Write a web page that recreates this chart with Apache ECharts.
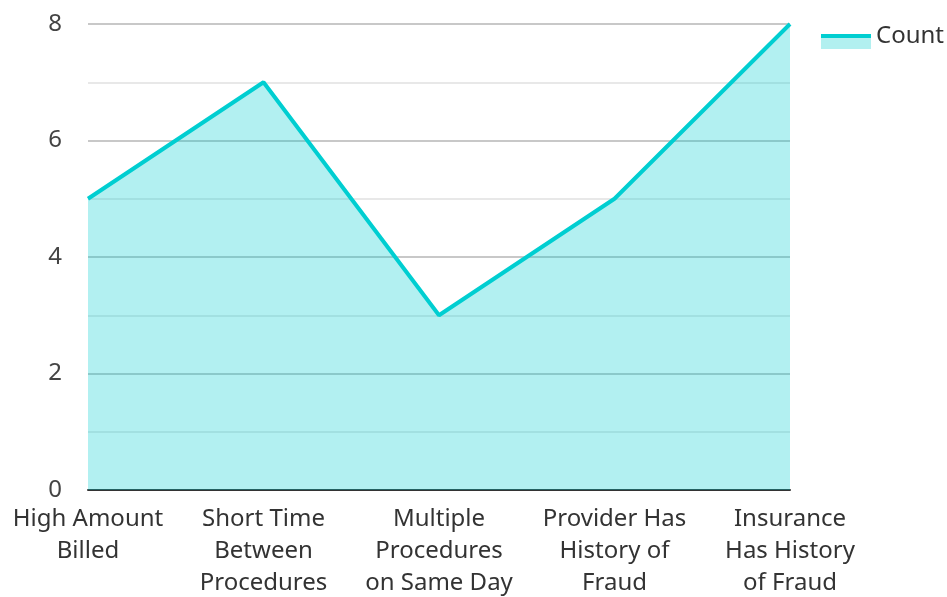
<!DOCTYPE html>
<html>
<head>
<meta charset="utf-8">
<script src="https://cdn.jsdelivr.net/npm/echarts@6/dist/echarts.min.js"></script>
<style>
  html, body { margin: 0; padding: 0; background: #fff; }
  #chart { width: 947px; height: 597px; }
</style>
</head>
<body>
<div id="chart"></div>
<script>
// categories along x
var categories = [
  "High Amount\nBilled",
  "Short Time\nBetween\nProcedures",
  "Multiple\nProcedures\non Same Day",
  "Provider Has\nHistory of\nFraud",
  "Insurance\nHas History\nof Fraud"
];
// counts
var counts = [5, 7, 3, 5, 8];
var seriesName = "Count";

var font = "Noto Sans";
var lineColor = "#00CED1";
var areaColor = "#B2F0F0";
var chart = echarts.init(document.getElementById("chart"));

chart.setOption({
  animation: false,
  textStyle: { fontFamily: font },
  grid: {
    left: 88, right: 157, top: 24, bottom: 107,
    containLabel: false, outerBoundsMode: "none"
  },
  legend: {
    right: -2, top: 19,
    itemWidth: 50, itemHeight: 25, itemGap: 10,
    textStyle: { fontFamily: font, fontSize: 24, color: "#333" },
    data: [{
      name: seriesName,
      // tiny dot on top shifts the swatch down a bit
      icon: "path://M0,0 L0.1,0 L0,0.1 Z M0,10 L50,10 L50,25 L0,25 Z"
    }],
    itemStyle: {
      color: new echarts.graphic.LinearGradient(0, 0, 0, 1, [
        { offset: 0, color: "rgba(255,255,255,0)" },
        { offset: 0.4, color: lineColor },
        { offset: 0.55, color: lineColor },
        { offset: 0.55, color: areaColor },
        { offset: 1, color: areaColor }
      ])
    }
  },
  xAxis: {
    type: "category",
    data: categories,
    boundaryGap: false,
    axisLine: { lineStyle: { color: "#333", width: 2 } },
    axisTick: { show: false },
    axisLabel: {
      fontFamily: font, fontSize: 24, color: "#333",
      lineHeight: 32, margin: 13, interval: 0
    },
    splitLine: { show: false }
  },
  yAxis: {
    type: "value",
    min: 0, max: 8, interval: 2,
    axisLine: { show: false },
    axisTick: { show: false },
    axisLabel: { fontFamily: font, fontSize: 24, color: "#444", margin: 26 },
    splitLine: { lineStyle: { color: "#c8c8c8", width: 2 } },
    minorTick: { show: false, splitNumber: 2 },
    minorSplitLine: { show: true, lineStyle: { color: "#e8e8e8", width: 2 } }
  },
  series: [{
    name: seriesName,
    type: "line",
    data: counts,
    symbol: "none",
    lineStyle: { color: lineColor, width: 4 },
    itemStyle: { color: lineColor },
    areaStyle: { color: lineColor, opacity: 0.3 }
  }]
});
</script>
</body>
</html>
